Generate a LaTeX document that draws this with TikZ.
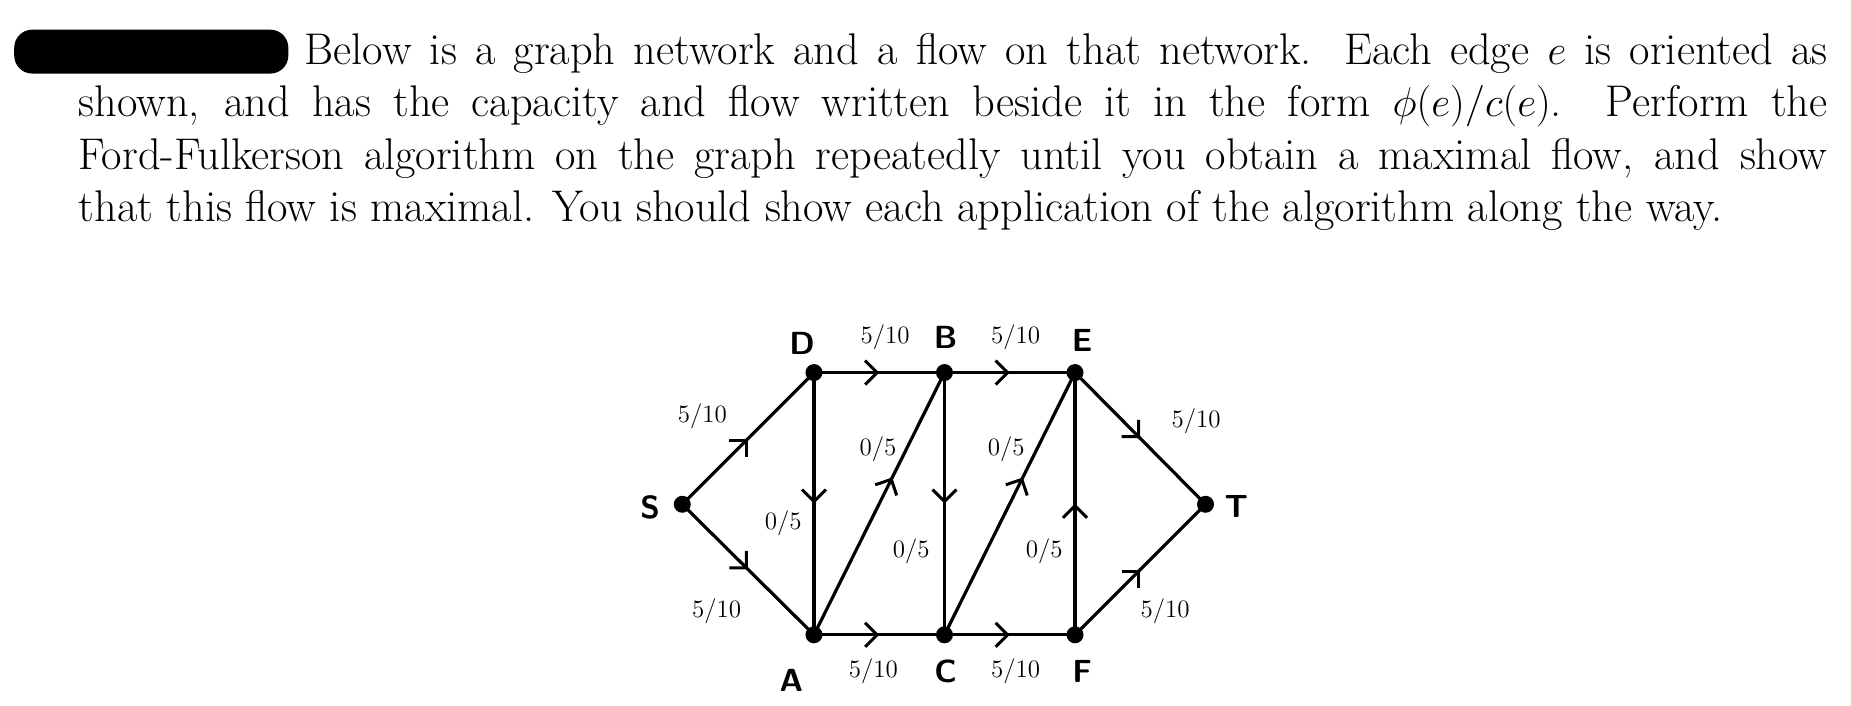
\documentclass[tikz,border=0pt]{standalone}
\usepackage{amsmath}
\usetikzlibrary{decorations.markings,arrows.meta}
\tikzset{>=latex}
\tikzstyle{vertex}=[circle,fill=black,inner sep=0pt,minimum size=8.5pt]
\tikzstyle{vname}=[font=\sffamily\bfseries\fontsize{16}{16}\selectfont]
\tikzstyle{flowcap}=[font=\fontsize{12.5}{13}\selectfont,inner sep=1pt]
\tikzset{
  flowedge/.style={line width=1.6pt,decoration={markings,
                   mark=at position #1 with {\arrow[line width=1.5pt]{Straight Barb[length=6pt,width=12pt]}}},
                   postaction={decorate}},
  flowedge/.default=0.5}

\begin{document}
\begin{tikzpicture}[x=0.5933pt,y=-0.5933pt]
  \useasboundingbox (0,0) rectangle (1560,595);

  % PROBLEM TEXT
  \fill[rounded corners=9pt] (12,25) rectangle (243,62);
  \node[anchor=north west,inner sep=0pt,text width=874.5pt,align=justify,
        font=\fontsize{22.2}{26.1}\selectfont] (txt) at (66,28)
    {\hspace*{113pt}Below is a graph network and a flow on that network. Each edge $e$ is oriented as\linebreak
     shown, and has the capacity and flow written beside it in the form $\phi(e)/c(e)$. Perform the\linebreak
     Ford-Fulkerson algorithm on the graph repeatedly until you obtain a maximal flow, and show\linebreak
     that this flow is maximal. You should show each application of the algorithm along the way.};

  % VERTICES
  \node[vertex] (S) at (575,425) {};
  \node[vertex] (D) at (686,314) {};
  \node[vertex] (B) at (796,314) {};
  \node[vertex] (E) at (906,314) {};
  \node[vertex] (T) at (1016,425) {};
  \node[vertex] (A) at (686,535) {};
  \node[vertex] (C) at (796,535) {};
  \node[vertex] (F) at (906,535) {};

  \node[vname] at (548,428) {S};
  \node[vname] at (676,289) {D};
  \node[vname] at (797,284) {B};
  \node[vname] at (912,287) {E};
  \node[vname] at (1042,427) {T};
  \node[vname] at (667,573) {A};
  \node[vname] at (797,566) {C};
  \node[vname] at (912,566) {F};

  % EDGES
  \draw[flowedge] (S.center) -- (D.center);
  \draw[flowedge] (S.center) -- (A.center);
  \draw[flowedge] (D.center) -- (B.center);
  \draw[flowedge] (B.center) -- (E.center);
  \draw[flowedge] (D.center) -- (A.center);
  \draw[flowedge=0.6] (A.center) -- (B.center);
  \draw[flowedge] (B.center) -- (C.center);
  \draw[flowedge=0.6] (C.center) -- (E.center);
  \draw[flowedge] (F.center) -- (E.center);
  \draw[flowedge] (A.center) -- (C.center);
  \draw[flowedge] (C.center) -- (F.center);
  \draw[flowedge] (E.center) -- (T.center);
  \draw[flowedge] (F.center) -- (T.center);

  % FLOW / CAPACITY
  \node[flowcap] at (592,351) {5/10};
  \node[flowcap] at (604,515) {5/10};
  \node[flowcap] at (746,284) {5/10};
  \node[flowcap] at (856,284) {5/10};
  \node[flowcap] at (660,441) {0/5};
  \node[flowcap] at (740,379) {0/5};
  \node[flowcap] at (768,465) {0/5};
  \node[flowcap] at (848,379) {0/5};
  \node[flowcap] at (880,465) {0/5};
  \node[flowcap] at (1008,355) {5/10};
  \node[flowcap] at (982,515) {5/10};
  \node[flowcap] at (736,566) {5/10};
  \node[flowcap] at (856,566) {5/10};
\end{tikzpicture}
\end{document}
